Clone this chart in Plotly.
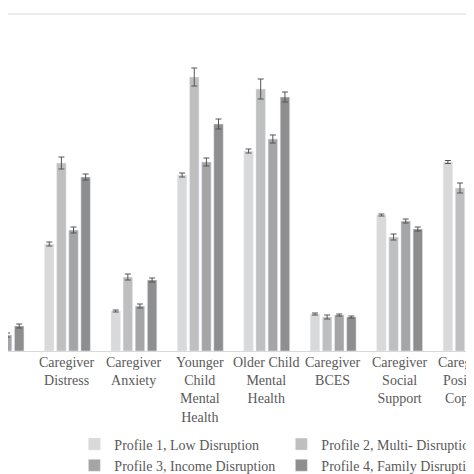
import plotly.graph_objects as go

categories = ["Caregiver<br>ACES", "Caregiver<br>Distress", "Caregiver<br>Anxiety", "Younger<br>Child<br>Mental<br>Health",
              "Older Child<br>Mental<br>Health", "Caregiver<br>BCES", "Caregiver<br>Social<br>Support", "Caregiver<br>Positive<br>Coping"]
series_names = ["Profile 1, Low Disruption", "Profile 2, Multi- Disruption",
                "Profile 3, Income Disruption", "Profile 4, Family Disruption"]
p1 = [12, 107, 40, 176, 200, 37, 136, 189]
p2 = [22, 188, 74, 274, 262, 34, 114, 163]
p3 = [16, 121, 45, 189, 212, 36, 130, 181]
p4 = [25, 174, 71, 227, 254, 34, 122, 170]
e1 = [1, 2, 1, 2, 2, 1, 1, 1.5]
e2 = [2, 6, 3, 9, 10, 2, 3, 5]
e3 = [2, 3, 2, 4, 4, 1, 2, 3]
e4 = [2, 3, 2, 5, 5, 1, 2, 3]
colors = ["#d9d9d9", "#bfbfbf", "#a5a5a5", "#8e8e8e"]

xs = list(range(len(categories)))
fig = go.Figure()
for name, vals, errs, c in zip(series_names, [p1, p2, p3, p4], [e1, e2, e3, e4], colors):
    fig.add_trace(go.Bar(x=xs, y=vals, name=name, marker_color=c,
                         error_y=dict(type="data", array=errs, color="#555555", thickness=1, width=3)))

for i, cat in enumerate(categories):
    fig.add_annotation(x=i, y=0, xref="x", yref="paper", yanchor="top", yshift=-2,
                       text=cat, showarrow=False, font=dict(family="Liberation Serif", size=14, color="#595959"))

fig.add_shape(type="line", xref="paper", yref="paper", x0=0, x1=1, y0=1, y1=1, line=dict(color="#d9d9d9", width=1))

fig.update_layout(
    width=474, height=474, margin=dict(l=0, r=0, t=6, b=131, autoexpand=False),
    paper_bgcolor="white", plot_bgcolor="white",
    barmode="group", bargap=0.27, bargroupgap=0.22,
    xaxis=dict(range=[0.105, 7.24], showticklabels=False, showgrid=False, zeroline=False,
               showline=True, linecolor="#d9d9d9", ticks=""),
    yaxis=dict(range=[0, 337], visible=False),
    legend=dict(orientation="h", x=0.14, y=-0.23, xanchor="left", yanchor="top",
                entrywidth=162, entrywidthmode="pixels",
                font=dict(family="Liberation Serif", size=14, color="#595959"),
                itemwidth=30, tracegroupgap=0),
    showlegend=True,
)
fig.write_html("out.html")
